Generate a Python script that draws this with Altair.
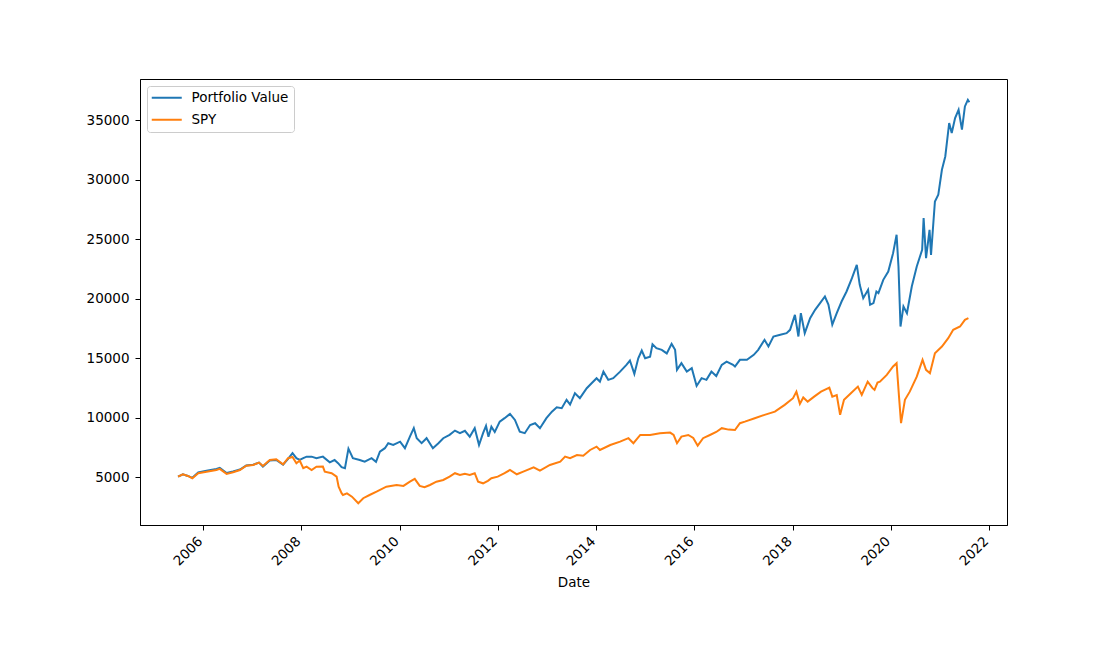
import altair as alt
import pandas as pd

# ---- data (decimal year, value) ----
pv_year = [2005.49, 2005.59, 2005.69, 2005.78, 2005.90, 2006.07, 2006.27, 2006.34, 2006.48, 2006.61,
           2006.75, 2006.88, 2007.02, 2007.14, 2007.22, 2007.36, 2007.49, 2007.63, 2007.73, 2007.82,
           2007.90, 2007.97, 2008.04, 2008.11, 2008.21, 2008.31, 2008.44, 2008.58, 2008.68, 2008.75,
           2008.82, 2008.89, 2008.96, 2009.05, 2009.19, 2009.29, 2009.43, 2009.52, 2009.60, 2009.70,
           2009.77, 2009.87, 2010.01, 2010.11, 2010.21, 2010.29, 2010.35, 2010.45, 2010.55, 2010.68,
           2010.79, 2010.89, 2011.02, 2011.13, 2011.23, 2011.33, 2011.43, 2011.53, 2011.62, 2011.70,
           2011.76, 2011.81, 2011.87, 2011.94, 2012.04, 2012.14, 2012.25, 2012.35, 2012.45, 2012.55,
           2012.66, 2012.76, 2012.86, 2012.99, 2013.10, 2013.20, 2013.30, 2013.40, 2013.47, 2013.57,
           2013.67, 2013.81, 2013.91, 2014.01, 2014.08, 2014.15, 2014.25, 2014.35, 2014.49, 2014.62,
           2014.69, 2014.78, 2014.86, 2014.93, 2015.00, 2015.10, 2015.15, 2015.23, 2015.34, 2015.44,
           2015.54, 2015.61, 2015.65, 2015.74, 2015.85, 2015.95, 2016.05, 2016.15, 2016.25, 2016.35,
           2016.45, 2016.56, 2016.66, 2016.79, 2016.83, 2016.93, 2017.07, 2017.21, 2017.30, 2017.43,
           2017.51, 2017.61, 2017.75, 2017.88, 2017.95, 2018.05, 2018.12, 2018.17, 2018.25, 2018.36,
           2018.46, 2018.56, 2018.66, 2018.73, 2018.81, 2018.90, 2019.00, 2019.10, 2019.21, 2019.31,
           2019.37, 2019.44, 2019.54, 2019.58, 2019.65, 2019.71, 2019.75, 2019.85, 2019.95, 2020.05,
           2020.12, 2020.16, 2020.20, 2020.26, 2020.33, 2020.43, 2020.53, 2020.64, 2020.67, 2020.72,
           2020.79, 2020.82, 2020.90, 2020.97, 2021.04, 2021.11, 2021.19, 2021.24, 2021.31, 2021.38,
           2021.45, 2021.51, 2021.57, 2021.60]
pv_value = [5050, 5250, 5110, 4950, 5400, 5550, 5700, 5780, 5350, 5480,
            5650, 5980, 6050, 6230, 5900, 6400, 6450, 6050, 6550, 7020,
            6600, 6450, 6600, 6730, 6730, 6600, 6730, 6250, 6450, 6180,
            5850, 5760, 7400, 6600, 6450, 6310, 6600, 6300, 7150, 7440,
            7860, 7720, 7990, 7440, 8410, 9120, 8280, 7860, 8280, 7440,
            7860, 8280, 8560, 8920, 8700, 8900, 8410, 9120, 7710, 8700,
            9310, 8400, 9250, 8800, 9670, 9960, 10320, 9810, 8830, 8700,
            9390, 9540, 9120, 9960, 10510, 10880, 10800, 11500, 11100, 12060,
            11640, 12480, 12900, 13320, 13030, 13870, 13180, 13320, 13870, 14440,
            14800, 13680, 14990, 15640, 15000, 15130, 16170, 15840, 15700, 15400,
            16200, 15700, 14020, 14580, 13870, 14160, 12670, 13320, 13180, 13870,
            13500, 14440, 14710, 14440, 14300, 14860, 14860, 15280, 15700, 16540,
            15980, 16820, 16960, 17100, 17380, 18640, 16820, 18780, 17100, 18360,
            19060, 19620, 20180, 19500, 17810, 18780, 19760, 20600, 21720, 22840,
            21160, 20040, 20740, 19480, 19620, 20600, 20460, 21580, 22280, 23820,
            25360, 22700, 17660, 19340, 18780, 21020, 22700, 24100, 26760, 23400,
            25780, 23680, 28160, 28720, 30820, 31940, 34750, 33910, 35170, 35860,
            34190, 36140, 36700, 36500]

spy_year = [2005.49, 2005.59, 2005.69, 2005.78, 2005.90, 2006.07, 2006.27, 2006.34, 2006.48, 2006.61,
            2006.75, 2006.88, 2007.02, 2007.14, 2007.22, 2007.36, 2007.49, 2007.63, 2007.73, 2007.82,
            2007.90, 2007.97, 2008.04, 2008.11, 2008.21, 2008.31, 2008.44, 2008.48, 2008.62, 2008.72,
            2008.76, 2008.82, 2008.85, 2008.93, 2009.03, 2009.16, 2009.26, 2009.39, 2009.53, 2009.73,
            2009.94, 2010.08, 2010.21, 2010.31, 2010.41, 2010.51, 2010.62, 2010.75, 2010.89, 2011.02,
            2011.13, 2011.23, 2011.33, 2011.43, 2011.53, 2011.60, 2011.70, 2011.80, 2011.87, 2012.00,
            2012.14, 2012.25, 2012.39, 2012.52, 2012.73, 2012.86, 2013.06, 2013.27, 2013.37, 2013.47,
            2013.61, 2013.74, 2013.88, 2014.01, 2014.08, 2014.29, 2014.49, 2014.66, 2014.76, 2014.90,
            2015.10, 2015.30, 2015.51, 2015.58, 2015.65, 2015.74, 2015.88, 2015.98, 2016.07, 2016.18,
            2016.32, 2016.45, 2016.56, 2016.70, 2016.83, 2016.93, 2017.03, 2017.23, 2017.43, 2017.64,
            2017.84, 2018.01, 2018.08, 2018.15, 2018.22, 2018.31, 2018.44, 2018.58, 2018.75, 2018.81,
            2018.90, 2018.97, 2019.05, 2019.19, 2019.33, 2019.41, 2019.53, 2019.63, 2019.67, 2019.73,
            2019.78, 2019.92, 2020.05, 2020.12, 2020.17, 2020.21, 2020.29, 2020.39, 2020.53, 2020.65,
            2020.72, 2020.80, 2020.90, 2021.04, 2021.17, 2021.27, 2021.41, 2021.51, 2021.58]
spy_value = [5050, 5250, 5110, 4920, 5340, 5470, 5610, 5700, 5280, 5420,
             5610, 5970, 6030, 6230, 5950, 6450, 6510, 6090, 6600, 6700,
             6170, 6400, 5760, 5890, 5610, 5890, 5900, 5470, 5340, 5050,
             4210, 3660, 3510, 3650, 3370, 2820, 3240, 3510, 3790, 4210,
             4350, 4270, 4630, 4860, 4270, 4160, 4350, 4630, 4770, 5050,
             5340, 5190, 5300, 5200, 5340, 4630, 4490, 4700, 4920, 5050,
             5340, 5610, 5250, 5470, 5840, 5560, 6030, 6310, 6730, 6600,
             6870, 6800, 7290, 7570, 7290, 7710, 7990, 8280, 7860, 8550,
             8550, 8700, 8750, 8550, 7860, 8410, 8550, 8300, 7650, 8280,
             8550, 8800, 9120, 9000, 8970, 9540, 9670, 9960, 10240, 10510,
             11080, 11640, 12190, 11160, 11700, 11350, 11770, 12190, 12530, 11770,
             11900, 10240, 11500, 12060, 12610, 11920, 13030, 12480, 12340, 12950,
             13030, 13600, 14300, 14580, 11770, 9540, 11500, 12190, 13450, 14860,
             14020, 13740, 15420, 15980, 16680, 17380, 17660, 18220, 18360]

series_names = ["Portfolio Value", "SPY"]
series_colors = ["#1f77b4", "#ff7f0e"]
y_ticks = [5000, 10000, 15000, 20000, 25000, 30000, 35000]
x_tick_years = [2006, 2008, 2010, 2012, 2014, 2016, 2018, 2020, 2022]


def to_date(y):
    yr = int(y)
    return pd.Timestamp(yr, 1, 1) + pd.Timedelta(days=round((y - yr) * 365.25))


rows = []
for name, ys, vs in [(series_names[0], pv_year, pv_value), (series_names[1], spy_year, spy_value)]:
    for y, v in zip(ys, vs):
        rows.append({"Date": to_date(y), "value": v, "series": name})
df = pd.DataFrame(rows)

FONT = "DejaVu Sans"

chart = alt.Chart(df).mark_line(strokeWidth=2, clip=True).encode(
    x=alt.X(
        "Date:T",
        scale=alt.Scale(
            domain=[alt.DateTime(year=2004, month=9, date=19), alt.DateTime(year=2022, month=5, date=15)],
            nice=False,
        ),
        axis=alt.Axis(
            values=[alt.DateTime(year=y, month=1, date=1) for y in x_tick_years],
            format="%Y",
            labelAngle=-45,
            labelAlign="right",
            labelBaseline="top",
            labelOffset=-8,
            labelPadding=4,
            title="Date",
            titleY=61,
            titleBaseline="alphabetic",
            grid=False,
        ),
    ),
    y=alt.Y(
        "value:Q",
        scale=alt.Scale(domain=[990, 38445], nice=False, zero=False),
        axis=alt.Axis(values=y_ticks, format="d", title=None, grid=False, labelPadding=6),
    ),
    color=alt.Color(
        "series:N",
        scale=alt.Scale(domain=series_names, range=series_colors),
        sort=series_names,
        legend=alt.Legend(
            title=None,
            orient="none",
            legendX=7,
            legendY=7,
            fillColor="white",
            strokeColor="#cccccc",
            cornerRadius=3,
            padding=5,
            symbolType="M-3,0H3",
            symbolSize=100,
            symbolOffset=8,
            symbolStrokeWidth=2,
            labelOffset=18,
            rowPadding=7,
            labelFont=FONT,
            labelFontSize=13.5,
            labelColor="black",
        ),
    ),
).properties(
    width=867,
    height=446,
    padding={"left": 132, "top": 71, "right": 40, "bottom": 100},
    autosize=alt.AutoSizeParams(type="none"),
).configure_view(
    stroke="black", strokeWidth=1
).configure_axis(
    domainColor="black",
    tickColor="black",
    labelColor="black",
    titleColor="black",
    tickSize=5,
    labelFont=FONT,
    labelFontSize=13.5,
    titleFont=FONT,
    titleFontSize=13.5,
    titleFontWeight="normal",
)

chart.save("out.html", embed_options={"renderer": "svg", "actions": False})
